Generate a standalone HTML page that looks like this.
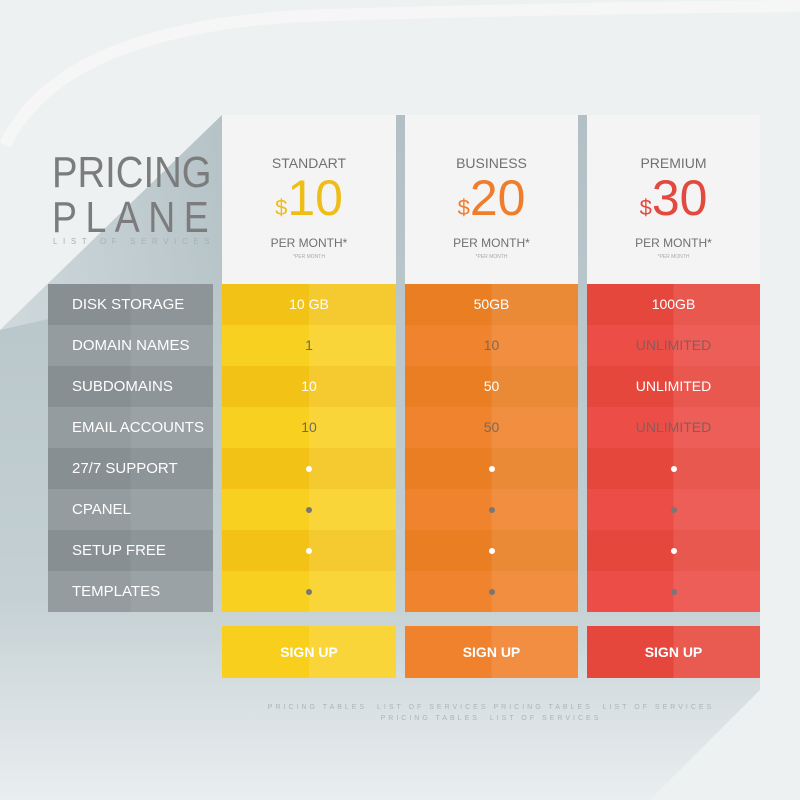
<!DOCTYPE html>
<html><head><meta charset="utf-8"><style>
body{margin:0;width:800px;height:800px;overflow:hidden;background:#eef1f2;font-family:"Liberation Sans",sans-serif;position:relative}
.a{position:absolute}
.hdr{background:#f4f4f4;top:115px;height:169px;text-align:center;color:#707070}
.cell{position:absolute;height:41px;line-height:41px;text-align:center;font-size:14px}
.lab{position:absolute;left:48px;width:165px;height:41px;line-height:41px;color:#fff;font-size:15px;text-indent:24px}
.dot{display:inline-block;width:6px;height:6px;border-radius:50%;vertical-align:middle}
</style></head><body>
<svg class="a" style="left:0;top:0" width="800" height="800">
<defs><linearGradient id="g" x1="0" y1="0" x2="0" y2="1">
<stop offset="0" stop-color="#b2c0c5"/><stop offset="0.7" stop-color="#c4d0d3"/><stop offset="1" stop-color="#eaeef0"/></linearGradient>
<linearGradient id="g2" x1="0" y1="0" x2="1" y2="0"><stop offset="0" stop-color="#dfe6e8"/><stop offset="1" stop-color="#b7c4c8"/></linearGradient></defs>
<path d="M5,145 Q60,30 300,16 Q550,8 800,6" stroke="#f6f6f6" stroke-width="12" fill="none"/>
<polygon points="222,115 760,115 760,690 650,800 0,800 0,330" fill="url(#g)"/>
<polygon points="222,115 222,280 0,330 0,330" fill="url(#g2)" opacity="0.6"/>
</svg>
<div class="a" style="left:52px;top:148px;font-size:44px;color:#7c7c7c;transform:scaleX(0.87);transform-origin:left;white-space:nowrap">PRICING</div>
<div class="a" style="left:52px;top:193px;font-size:44px;color:#7c7c7c;letter-spacing:10px;transform:scaleX(0.85);transform-origin:left;white-space:nowrap">PLANE</div>
<div class="a" style="left:53px;top:237px;font-size:8px;color:#a8b0b3;letter-spacing:5.6px;white-space:nowrap">LIST OF SERVICES</div>

<div class="a hdr" style="left:222px;width:174px"><div style="margin-top:40px;font-size:14px">STANDART</div><div style="color:#eebe16;font-size:50px;margin-top:1px;line-height:52px"><span style="font-size:22px">$</span>10</div><div style="font-size:12px;margin-top:2px">PER MONTH*</div><div style="font-size:5px;color:#aaa;margin-top:4px">*PER MONTH</div></div>
<div class="a hdr" style="left:405px;width:173px"><div style="margin-top:40px;font-size:14px">BUSINESS</div><div style="color:#ef7d2c;font-size:50px;margin-top:1px;line-height:52px"><span style="font-size:22px">$</span>20</div><div style="font-size:12px;margin-top:2px">PER MONTH*</div><div style="font-size:5px;color:#aaa;margin-top:4px">*PER MONTH</div></div>
<div class="a hdr" style="left:587px;width:173px"><div style="margin-top:40px;font-size:14px">PREMIUM</div><div style="color:#e24a40;font-size:50px;margin-top:1px;line-height:52px"><span style="font-size:22px">$</span>30</div><div style="font-size:12px;margin-top:2px">PER MONTH*</div><div style="font-size:5px;color:#aaa;margin-top:4px">*PER MONTH</div></div>

<div class="lab" style="top:284px;background:linear-gradient(90deg,#878f92 50%,#8d9598 50%)">DISK STORAGE</div>
<div class="lab" style="top:325px;background:linear-gradient(90deg,#949c9f 50%,#9aa2a5 50%)">DOMAIN NAMES</div>
<div class="lab" style="top:366px;background:linear-gradient(90deg,#878f92 50%,#8d9598 50%)">SUBDOMAINS</div>
<div class="lab" style="top:407px;background:linear-gradient(90deg,#949c9f 50%,#9aa2a5 50%)">EMAIL ACCOUNTS</div>
<div class="lab" style="top:448px;background:linear-gradient(90deg,#878f92 50%,#8d9598 50%)">27/7 SUPPORT</div>
<div class="lab" style="top:489px;background:linear-gradient(90deg,#949c9f 50%,#9aa2a5 50%)">CPANEL</div>
<div class="lab" style="top:530px;background:linear-gradient(90deg,#878f92 50%,#8d9598 50%)">SETUP FREE</div>
<div class="lab" style="top:571px;height:41px;background:linear-gradient(90deg,#949c9f 50%,#9aa2a5 50%)">TEMPLATES</div>

<div class="cell" style="left:222px;width:174px;top:284px;color:#fff;background:linear-gradient(90deg,#f2c316 50%,#f4ca30 50%)">10 GB</div>
<div class="cell" style="left:222px;width:174px;top:325px;color:#6a6a6a;background:linear-gradient(90deg,#f8d020 50%,#f9d53a 50%)">1</div>
<div class="cell" style="left:222px;width:174px;top:366px;color:#fff;background:linear-gradient(90deg,#f2c316 50%,#f4ca30 50%)">10</div>
<div class="cell" style="left:222px;width:174px;top:407px;color:#6a6a6a;background:linear-gradient(90deg,#f8d020 50%,#f9d53a 50%)">10</div>
<div class="cell" style="left:222px;width:174px;top:448px;background:linear-gradient(90deg,#f2c316 50%,#f4ca30 50%)"><span class="dot" style="background:#fff"></span></div>
<div class="cell" style="left:222px;width:174px;top:489px;background:linear-gradient(90deg,#f8d020 50%,#f9d53a 50%)"><span class="dot" style="background:#777"></span></div>
<div class="cell" style="left:222px;width:174px;top:530px;background:linear-gradient(90deg,#f2c316 50%,#f4ca30 50%)"><span class="dot" style="background:#fff"></span></div>
<div class="cell" style="left:222px;width:174px;top:571px;background:linear-gradient(90deg,#f8d020 50%,#f9d53a 50%)"><span class="dot" style="background:#777"></span></div>
<div class="cell" style="left:405px;width:173px;top:284px;color:#fff;background:linear-gradient(90deg,#e97f22 50%,#eb8a36 50%)">50GB</div>
<div class="cell" style="left:405px;width:173px;top:325px;color:#7a6a5a;background:linear-gradient(90deg,#f0832e 50%,#f28e40 50%)">10</div>
<div class="cell" style="left:405px;width:173px;top:366px;color:#fff;background:linear-gradient(90deg,#e97f22 50%,#eb8a36 50%)">50</div>
<div class="cell" style="left:405px;width:173px;top:407px;color:#7a6a5a;background:linear-gradient(90deg,#f0832e 50%,#f28e40 50%)">50</div>
<div class="cell" style="left:405px;width:173px;top:448px;background:linear-gradient(90deg,#e97f22 50%,#eb8a36 50%)"><span class="dot" style="background:#fff"></span></div>
<div class="cell" style="left:405px;width:173px;top:489px;background:linear-gradient(90deg,#f0832e 50%,#f28e40 50%)"><span class="dot" style="background:#777"></span></div>
<div class="cell" style="left:405px;width:173px;top:530px;background:linear-gradient(90deg,#e97f22 50%,#eb8a36 50%)"><span class="dot" style="background:#fff"></span></div>
<div class="cell" style="left:405px;width:173px;top:571px;background:linear-gradient(90deg,#f0832e 50%,#f28e40 50%)"><span class="dot" style="background:#777"></span></div>
<div class="cell" style="left:587px;width:173px;top:284px;color:#fff;background:linear-gradient(90deg,#e6473c 50%,#e9584e 50%)">100GB</div>
<div class="cell" style="left:587px;width:173px;top:325px;color:#8a5a5a;background:linear-gradient(90deg,#ec4e47 50%,#ee5e58 50%)">UNLIMITED</div>
<div class="cell" style="left:587px;width:173px;top:366px;color:#fff;background:linear-gradient(90deg,#e6473c 50%,#e9584e 50%)">UNLIMITED</div>
<div class="cell" style="left:587px;width:173px;top:407px;color:#8a5a5a;background:linear-gradient(90deg,#ec4e47 50%,#ee5e58 50%)">UNLIMITED</div>
<div class="cell" style="left:587px;width:173px;top:448px;background:linear-gradient(90deg,#e6473c 50%,#e9584e 50%)"><span class="dot" style="background:#fff"></span></div>
<div class="cell" style="left:587px;width:173px;top:489px;background:linear-gradient(90deg,#ec4e47 50%,#ee5e58 50%)"><span class="dot" style="background:#777"></span></div>
<div class="cell" style="left:587px;width:173px;top:530px;background:linear-gradient(90deg,#e6473c 50%,#e9584e 50%)"><span class="dot" style="background:#fff"></span></div>
<div class="cell" style="left:587px;width:173px;top:571px;background:linear-gradient(90deg,#ec4e47 50%,#ee5e58 50%)"><span class="dot" style="background:#777"></span></div>

<div class="cell" style="left:222px;width:174px;top:626px;height:52px;line-height:52px;color:#fff;font-weight:bold;background:linear-gradient(90deg,#f8cf1c 50%,#f9d53a 50%)">SIGN UP</div>
<div class="cell" style="left:405px;width:173px;top:626px;height:52px;line-height:52px;color:#fff;font-weight:bold;background:linear-gradient(90deg,#f0822e 50%,#f28e42 50%)">SIGN UP</div>
<div class="cell" style="left:587px;width:173px;top:626px;height:52px;line-height:52px;color:#fff;font-weight:bold;background:linear-gradient(90deg,#e6473c 50%,#e95a50 50%)">SIGN UP</div>

<div class="a" style="left:222px;width:538px;top:702px;text-align:center;font-size:7px;color:#a9b5b9;letter-spacing:3px;line-height:11px">PRICING TABLES &nbsp;LIST OF SERVICES PRICING TABLES &nbsp;LIST OF SERVICES<br>PRICING TABLES &nbsp;LIST OF SERVICES</div>
</body></html>
